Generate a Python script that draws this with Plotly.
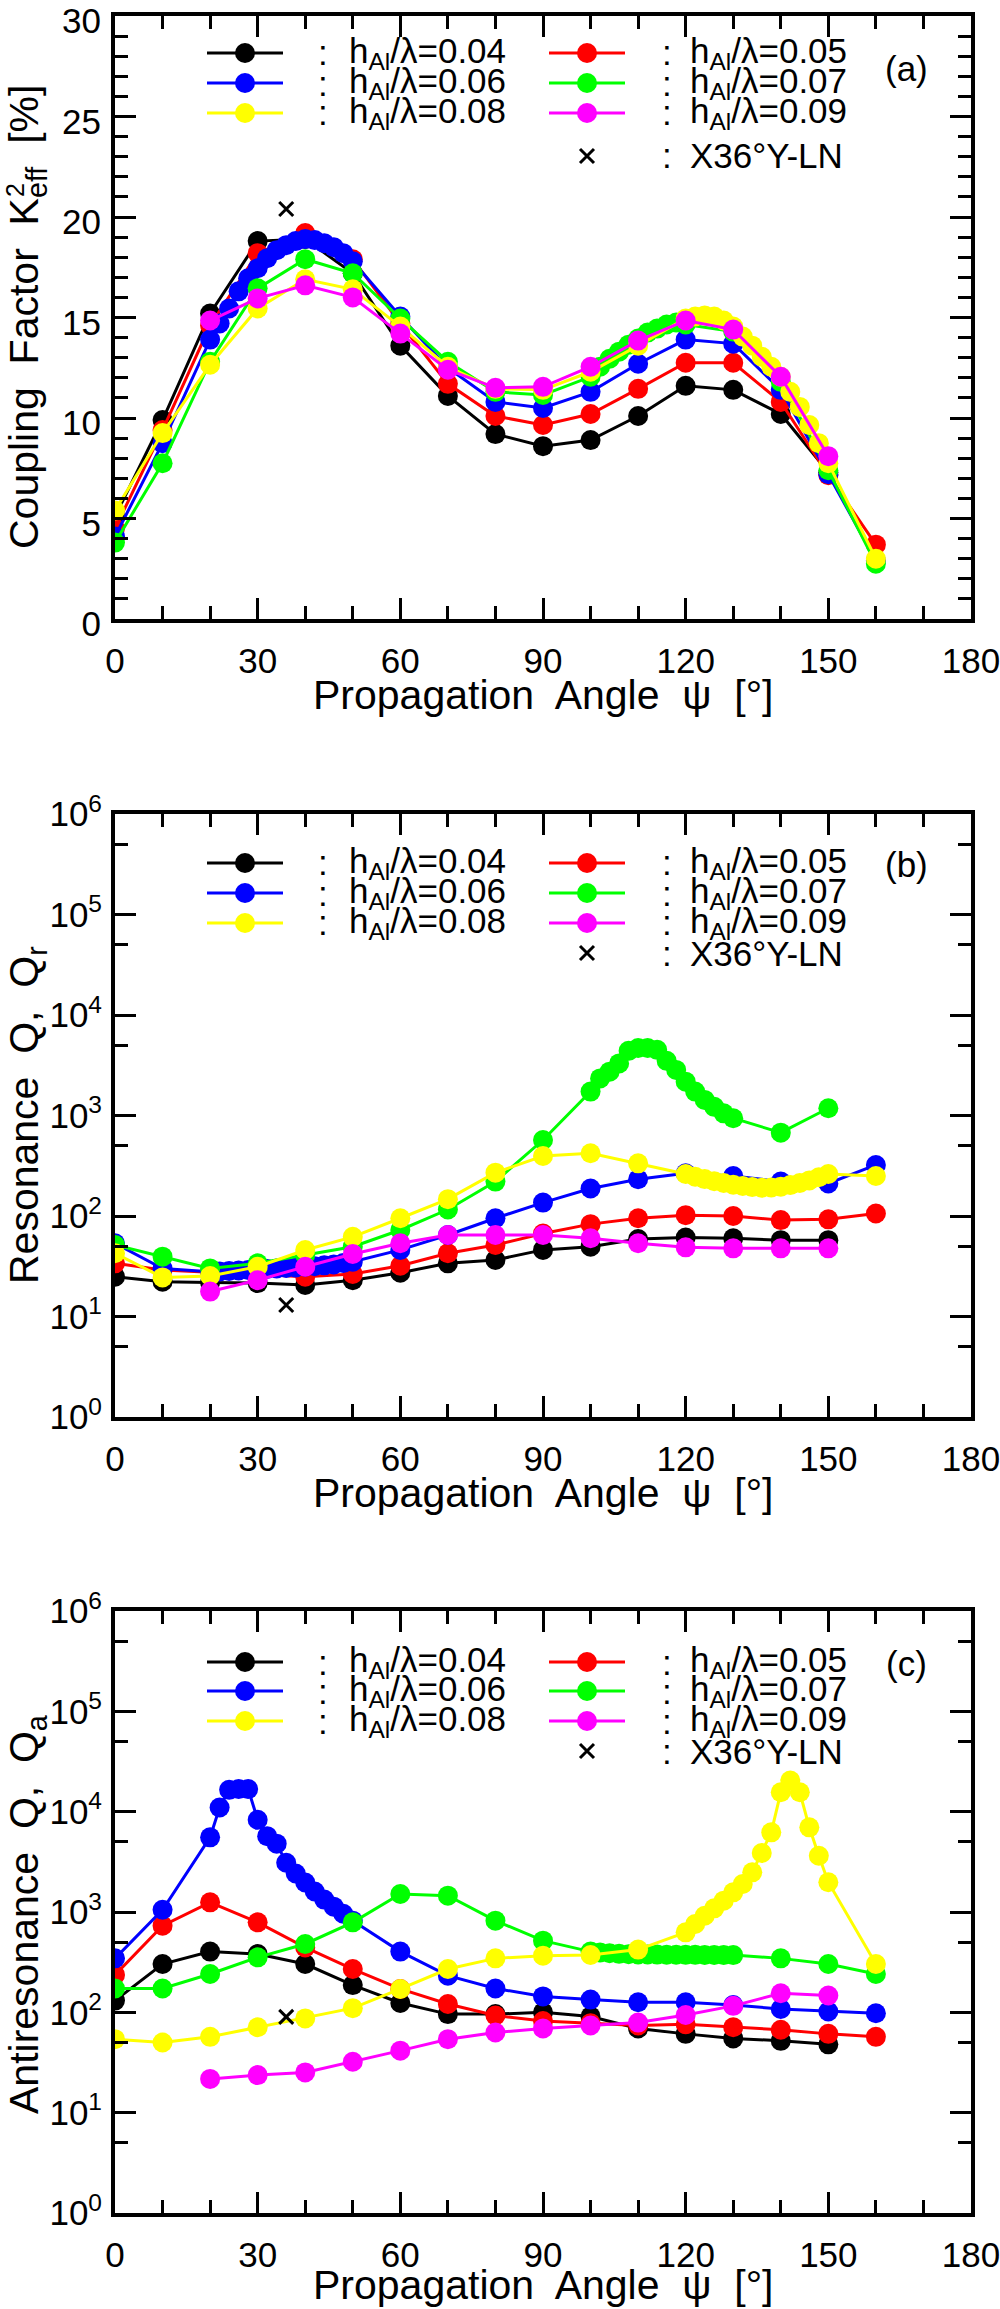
import plotly.graph_objects as go

# ---------------- data ----------------
series_labels = ["0.04", "0.05", "0.06", "0.07", "0.08", "0.09"]
series_colors = ["#000000", "#FF0000", "#0000FF", "#00FF00", "#FFFF00", "#FF00FF"]

ang_0_150 = [0, 10, 20, 30, 40, 50, 60, 70, 80, 90, 100, 110, 120, 130, 140, 150]
ang_0_160 = [0, 10, 20, 30, 40, 50, 60, 70, 80, 90, 100, 110, 120, 130, 140, 150, 160]
ang_20_150 = [20, 30, 40, 50, 60, 70, 80, 90, 100, 110, 120, 130, 140, 150]
ang_006 = [0, 10, 20, 22, 24, 26, 28, 30, 32, 34, 36, 38, 40, 42, 44, 46, 48, 50,
           60, 70, 80, 90, 100, 110, 120, 130, 140, 150, 160]
ang_008 = [0, 10, 20, 30, 40, 50, 60, 70, 80, 90, 100, 110, 120, 122, 124, 126, 128,
           130, 132, 134, 136, 138, 140, 142, 144, 146, 148, 150, 160]
a_x_007 = [0, 10, 20, 30, 40, 50, 60, 70, 80, 90, 100, 102, 104, 106, 108, 110, 112,
           114, 116, 118, 120, 130, 140, 150, 160]
b_x_007 = [0, 10, 20, 30, 40, 50, 60, 70, 80, 90, 100, 102, 104, 106, 108, 110, 112,
           114, 116, 118, 120, 122, 124, 126, 128, 130, 140, 150]
c_x_007 = [0, 10, 20, 30, 40, 50, 60, 70, 80, 90, 100, 102, 104, 106, 108, 110, 112,
           114, 116, 118, 120, 122, 124, 126, 128, 130, 140, 150, 160]

# (a) coupling factor K2eff [%]
a_y_004 = [5.1, 9.9, 15.2, 18.8, 18.9, 17.2, 13.6, 11.1, 9.2, 8.6, 8.9, 10.1, 11.6, 11.4, 10.2, 7.3]
a_y_005 = [4.5, 9.4, 14.6, 18.2, 19.2, 17.9, 14.7, 11.7, 10.1, 9.65, 10.2, 11.45, 12.75, 12.75,
           10.8, 7.15, 3.7]
a_y_006 = [4.1, 8.75, 13.9, 14.7, 15.45, 16.3, 16.95, 17.45, 17.95, 18.35, 18.6, 18.8, 18.9,
           18.85, 18.7, 18.5, 18.2, 17.8, 15.05, 12.5, 10.8, 10.5, 11.3, 12.7, 13.9, 13.7,
           11.4, 7.2, 2.9]
a_y_007 = [3.8, 7.75, 12.8, 16.45, 17.9, 17.2, 14.95, 12.8, 11.3, 11.15, 12.05, 12.55, 12.95,
           13.3, 13.65, 13.95, 14.25, 14.45, 14.65, 14.75, 14.65, 14.3, 11.8, 7.4, 2.75]
a_y_008 = [5.4, 9.25, 12.65, 15.45, 16.9, 16.4, 14.55, 12.55, 11.45, 11.4, 12.3, 13.6, 14.95,
           15.05, 15.1, 15.05, 14.85, 14.55, 14.05, 13.6, 13.05, 12.55, 12.05, 11.3, 10.55,
           9.65, 8.75, 7.75, 3.0]
a_y_009 = [14.85, 15.95, 16.6, 16.0, 14.2, 12.4, 11.5, 11.55, 12.55, 13.85, 14.85, 14.4, 12.05, 8.1]

# (b) resonance Q
b_y_004 = [24.9, 22.2, 21.8, 21.5, 20.6, 23.0, 27.3, 33.8, 36.5, 46.0, 49.5, 59.0, 61.0, 60.0,
           57.5, 57.5]
b_y_005 = [33.8, 29.0, 27.5, 26.0, 24.9, 26.5, 32.0, 42.6, 51.5, 67.0, 83.0, 95.0, 102.0, 100.0,
           91.0, 92.7, 106.0]
b_y_006 = [53.5, 30.0, 27.9, 28.1, 28.4, 28.7, 29.0, 29.3, 29.7, 30.0, 30.4, 30.8, 31.3, 31.7,
           32.3, 33.0, 34.0, 35.1, 46.0, 64.7, 95.0, 136.0, 188.0, 232.0, 266.0, 250.0, 220.0,
           211.0, 322.0]
b_y_007 = [51.4, 39.4, 30.1, 33.8, 41.0, 49.5, 72.6, 116.0, 220.0, 570.0, 1730.0, 2340.0,
           2730.0, 3300.0, 4400.0, 4700.0, 4700.0, 4500.0, 3500.0, 2840.0, 2170.0, 1730.0,
           1430.0, 1220.0, 1050.0, 940.0, 675.0, 1180.0]
b_y_008 = [42.6, 24.5, 25.3, 31.3, 45.9, 62.0, 95.0, 147.0, 270.0, 395.0, 421.0, 334.0, 262.0,
           246.0, 233.0, 222.0, 213.0, 205.0, 199.0, 194.0, 191.0, 192.0, 196.0, 203.0, 213.0,
           226.0, 243.0, 262.0, 250.0]
b_y_009 = [17.7, 23.0, 31.3, 41.9, 53.5, 64.7, 64.7, 64.7, 60.0, 53.5, 48.8, 47.7, 47.7, 47.7]

# (c) antiresonance Q
c_y_004 = [131, 303, 403, 381, 303, 187, 124, 96, 96, 100, 91, 69, 61, 55, 52, 48]
c_y_005 = [236, 731, 1249, 789, 444, 270, 171, 121, 93, 82, 78, 74, 76, 71, 67, 61, 57]
c_y_006 = [345, 1054, 5550, 11000, 16500, 16800, 16800, 8300, 5700, 4800, 3100, 2420, 1970,
           1600, 1330, 1130, 960, 820, 403, 232, 173, 144, 134, 126, 126, 118, 108, 102, 98]
c_y_007 = [173, 173, 241, 353, 480, 789, 1510, 1455, 820, 518, 403, 395, 388, 383, 380, 378,
           377, 376, 375, 375, 374, 374, 373, 373, 372, 372, 345, 303, 241]
c_y_008 = [54, 50, 57, 71, 87, 110, 171, 270, 345, 367, 373, 422, 627, 759, 918, 1088, 1298,
           1570, 1900, 2485, 3870, 6225, 15600, 20400, 15600, 6980, 3640, 1980, 303]
c_y_009 = [21.7, 23.7, 25.2, 32.2, 41.5, 54, 63, 69, 74, 79, 94, 116, 155, 147]

# X36deg Y-LN reference
ref_angle = [36]
ref_a = [20.4]
ref_b = [13.0]
ref_c = [90.0]

x_tick_vals = [0, 30, 60, 90, 120, 150, 180]
log_tick_vals = [1, 10, 100, 1000, 10000, 100000, 1000000]
log_tick_text = ["10<sup>0</sup>", "10<sup>1</sup>", "10<sup>2</sup>", "10<sup>3</sup>",
                 "10<sup>4</sup>", "10<sup>5</sup>", "10<sup>6</sup>"]
log_minor_vals = [5, 50, 500, 5000, 50000, 500000]

panel_letters = ["(a)", "(b)", "(c)"]
y_titles = ["Coupling  Factor  K<sub>eff</sub>  [%]",
            "Resonance  Q,  Q<sub>r</sub>",
            "Antiresonance  Q,  Q<sub>a</sub>"]
x_title = "Propagation  Angle  ψ  [°]"
ref_label = "X36°Y-LN"

# ---------------- layout geometry (pixels) ----------------
W, H = 1000, 2309
ML, MR, MT, MB = 115, 29, 16, 96
PW = W - ML - MR
PH = H - MT - MB


def fx(px):
    return (px - ML) / PW


def fy(py):
    return (H - MB - py) / PH


panel_tops = [16, 814, 1611]
panel_bots = [619, 1417, 2213]
x_title_gap = [76, 76, 72]

TEXT_FONT = "Liberation Sans, Arial, sans-serif"
TICK_FONT = "Liberation Sans, Arial, sans-serif"

fig = go.Figure()

panel_x = [
    [ang_0_150, ang_0_160, ang_006, a_x_007, ang_008, ang_20_150],
    [ang_0_150, ang_0_160, ang_006, b_x_007, ang_008, ang_20_150],
    [ang_0_150, ang_0_160, ang_006, c_x_007, ang_008, ang_20_150],
]
panel_y = [
    [a_y_004, a_y_005, a_y_006, a_y_007, a_y_008, a_y_009],
    [b_y_004, b_y_005, b_y_006, b_y_007, b_y_008, b_y_009],
    [c_y_004, c_y_005, c_y_006, c_y_007, c_y_008, c_y_009],
]
panel_ref = [ref_a, ref_b, ref_c]
axis_ids = [("x", "y"), ("x2", "y2"), ("x3", "y3")]

for p in range(3):
    xa, ya = axis_ids[p]
    for xs, ys, col, lab in zip(panel_x[p], panel_y[p], series_colors, series_labels):
        fig.add_trace(go.Scatter(
            x=xs, y=ys, mode="lines+markers", name="h/λ=" + lab,
            line=dict(color=col, width=3),
            marker=dict(color=col, size=20, line=dict(width=0)),
            xaxis=xa, yaxis=ya, showlegend=False))
    fig.add_trace(go.Scatter(
        x=ref_angle, y=panel_ref[p], mode="markers", name=ref_label,
        marker=dict(symbol="x-thin", size=14, color="black",
                    line=dict(color="black", width=3)),
        xaxis=xa, yaxis=ya, showlegend=False))

axis_common = dict(
    showline=True, linecolor="black", linewidth=4, mirror="allticks",
    ticks="inside", ticklen=21, tickwidth=3, tickcolor="black",
    showgrid=False, zeroline=False, automargin=False, ticklabeloverflow="allow",
    tickfont=dict(family=TICK_FONT, size=35, color="black"),
)
minor_common = dict(ticks="inside", ticklen=13, tickwidth=3, tickcolor="black", showgrid=False)

layout = dict(
    width=W, height=H, autosize=False,
    margin=dict(l=ML, r=MR, t=MT, b=MB, pad=0, autoexpand=False),
    paper_bgcolor="white", plot_bgcolor="white",
    showlegend=False,
    font=dict(family=TEXT_FONT, color="black"),
)

for p in range(3):
    suffix = "" if p == 0 else str(p + 1)
    dom = [fy(panel_bots[p]), fy(panel_tops[p])]
    layout["xaxis" + suffix] = dict(
        axis_common, range=[0, 180], tickvals=x_tick_vals,
        minor=dict(minor_common, dtick=10, tick0=0),
        anchor="y" + suffix, domain=[0, 1], ticklabelstandoff=8)
    if p == 0:
        layout["yaxis" + suffix] = dict(
            axis_common, range=[0, 30], dtick=5, tick0=0,
            minor=dict(minor_common, dtick=1, tick0=0),
            anchor="x" + suffix, domain=dom, ticklabelstandoff=3, ticklabelshift=5)
    else:
        layout["yaxis" + suffix] = dict(
            axis_common, type="log", range=[0, 6],
            tickvals=log_tick_vals, ticktext=log_tick_text,
            minor=dict(minor_common, tickvals=log_minor_vals),
            anchor="x" + suffix, domain=dom, ticklabelstandoff=2)

fig.update_layout(**layout)

# ---------------- legends, labels, titles ----------------
shapes = []
annotations = []

legend_rows = [[37, 67, 97, 140], [49, 79, 109, 139], [51, 80, 110, 140]]
label_rel = [52, 51, 52]
y_title_x = [27, 27, 27]
y_title_c = [317, 1115, 1915]

col_line = [(207, 283), (549, 625)]
col_mark = [245, 587]
col_colon = [323, 667]
col_text = [347, 688]
LEG_FONT = dict(family=TEXT_FONT, size=35, color="black")

for p in range(3):
    top = panel_tops[p]
    for i, (col, lab) in enumerate(zip(series_colors, series_labels)):
        c = i % 2
        r = i // 2
        yy = fy(top + legend_rows[p][r])
        shapes.append(dict(type="line", xref="paper", yref="paper",
                           x0=fx(col_line[c][0]), x1=fx(col_line[c][1]), y0=yy, y1=yy,
                           line=dict(color=col, width=3)))
        shapes.append(dict(type="circle", xref="paper", yref="paper",
                           xsizemode="pixel", ysizemode="pixel",
                           xanchor=fx(col_mark[c]), yanchor=yy,
                           x0=-10, x1=10, y0=-10, y1=10,
                           fillcolor=col, line=dict(width=0)))
        annotations.append(dict(xref="paper", yref="paper", x=fx(col_colon[c]), y=yy,
                                text=":", showarrow=False, xanchor="center", yanchor="middle",
                                font=LEG_FONT))
        annotations.append(dict(xref="paper", yref="paper", x=fx(col_text[c]), y=yy,
                                text="h<sub>Al</sub>/λ=" + lab, showarrow=False,
                                xanchor="left", yanchor="middle", font=LEG_FONT))
    # X36 reference entry
    yy = fy(top + legend_rows[p][3])
    shapes.append(dict(type="path", xref="paper", yref="paper",
                       xsizemode="pixel", ysizemode="pixel",
                       xanchor=fx(col_mark[1]), yanchor=yy,
                       path="M -7,-7 L 7,7 M -7,7 L 7,-7",
                       line=dict(color="black", width=3)))
    annotations.append(dict(xref="paper", yref="paper", x=fx(col_colon[1]), y=yy,
                            text=":", showarrow=False, xanchor="center", yanchor="middle",
                            font=LEG_FONT))
    annotations.append(dict(xref="paper", yref="paper", x=fx(col_text[1]), y=yy,
                            text=ref_label, showarrow=False, xanchor="left", yanchor="middle",
                            font=LEG_FONT))
    # panel letter
    annotations.append(dict(xref="paper", yref="paper", x=fx(906), y=fy(top + label_rel[p]),
                            text=panel_letters[p], showarrow=False, xanchor="center",
                            yanchor="middle", font=LEG_FONT))
    # x title
    annotations.append(dict(xref="paper", yref="paper", x=fx(543),
                            y=fy(panel_bots[p] + x_title_gap[p]),
                            text=x_title, showarrow=False, xanchor="center", yanchor="middle",
                            font=dict(family=TEXT_FONT, size=41, color="black")))
    # y title
    annotations.append(dict(xref="paper", yref="paper", x=fx(y_title_x[p]), y=fy(y_title_c[p]),
                            text=y_titles[p], showarrow=False, textangle=-90,
                            xanchor="center", yanchor="middle",
                            font=dict(family=TEXT_FONT, size=41, color="black")))

# superscript 2 of K2eff
annotations.append(dict(xref="paper", yref="paper", x=fx(15), y=fy(190),
                        text="2", showarrow=False, textangle=-90,
                        xanchor="center", yanchor="middle",
                        font=dict(family=TEXT_FONT, size=25, color="black")))

fig.update_layout(shapes=shapes, annotations=annotations)

fig.write_html("out.html")
